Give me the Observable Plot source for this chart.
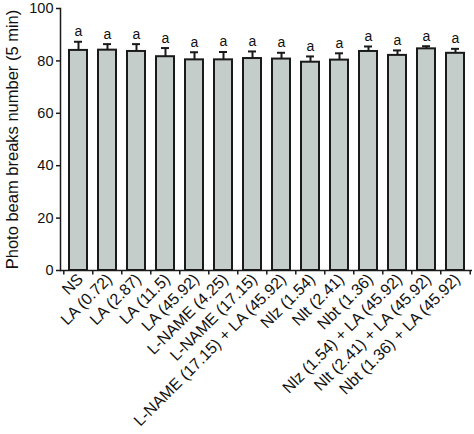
<!DOCTYPE html>
<html>
<head>
<meta charset="utf-8">
<script src="https://cdn.jsdelivr.net/npm/d3@7"></script>
<script src="https://cdn.jsdelivr.net/npm/@observablehq/plot@0.6"></script>
<style>
  html, body { margin: 0; padding: 0; background: #fff; }
  #chart svg { font-family: "Liberation Sans", Arial, sans-serif; display: block; }
</style>
</head>
<body>
<div id="chart"></div>
<script>
const categories = [
  "NS", "LA (0.72)", "LA (2.87)", "LA (11.5)", "LA (45.92)",
  "L-NAME (4.25)", "L-NAME (17.15)", "L-NAME (17.15) + LA (45.92)",
  "Nlz (1.54)", "Nlt (2.41)", "Nbt (1.36)",
  "Nlz (1.54) + LA (45.92)", "Nlt (2.41) + LA (45.92)", "Nbt (1.36) + LA (45.92)"
];
const means = [84.0, 84.1, 83.6, 81.6, 80.4, 80.4, 80.9, 80.7, 79.5, 80.3, 83.6, 82.1, 84.6, 82.9];
const sems  = [3.3, 2.3, 2.8, 3.3, 2.9, 3.0, 2.7, 2.4, 2.2, 2.6, 1.9, 1.9, 1.0, 1.7];
const letters = ["a","a","a","a","a","a","a","a","a","a","a","a","a","a"];
const yTicks = [0, 20, 40, 60, 80, 100];
const yTitle = "Photo beam breaks number (5 min)";

const data = categories.map((c, i) => ({cat: c, mean: means[i], top: means[i] + sems[i], letter: letters[i]}));

const width = 474, height = 434;
const marginLeft = 60, marginRight = 2;
const step = (width - marginLeft - marginRight) / categories.length;
const ink = "#1a1a1a";

const chart = Plot.plot({
  width, height,
  marginLeft, marginRight, marginTop: 8, marginBottom: 164,
  style: {fontFamily: "Liberation Sans, Arial, sans-serif", color: "#111", background: "#fff"},
  x: {domain: categories, paddingInner: 0.39, paddingOuter: 0.195, label: null},
  y: {domain: [0, 100], label: null},
  marks: [
    Plot.barY(data, {x: "cat", y: "mean", fill: "#c5cdca", stroke: ink, strokeWidth: 2}),
    Plot.ruleX(data, {x: "cat", y1: "mean", y2: "top", stroke: ink, strokeWidth: 2}),
    Plot.tickY(data, {x: "cat", y: "top", stroke: ink, strokeWidth: 2, insetLeft: 5, insetRight: 5}),
    Plot.text(data, {x: "cat", y: "top", text: "letter", dy: -10, fontSize: 14, fill: "#111"}),
    Plot.frame({anchor: "left", stroke: ink, strokeWidth: 1.5}),
    Plot.ruleY([0], {stroke: ink, strokeWidth: 1.5}),
    // x ticks at band boundaries
    Plot.ruleX(categories, {x: d => d, y1: 0, y2: -1.7, dx: -step / 2, stroke: ink, strokeWidth: 1.5, clip: false}),
    Plot.ruleX([categories[categories.length - 1]], {x: d => d, y1: 0, y2: -1.7, dx: step / 2, stroke: ink, strokeWidth: 1.5, clip: false}),
    Plot.axisY({ticks: yTicks, tickSize: 4, tickPadding: 3, fontSize: 14.5, stroke: ink, strokeWidth: 1.5, label: null}),
    Plot.text([yTitle], {frameAnchor: "left", textAnchor: "middle", rotate: -90, dx: -48, fontSize: 16.5, fill: "#111"}),
    Plot.axisX({tickSize: 0, tickRotate: -45, tickPadding: 6, dx: 2, fontSize: 16, label: null})
  ]
});
document.getElementById("chart").append(chart);
</script>
</body>
</html>
